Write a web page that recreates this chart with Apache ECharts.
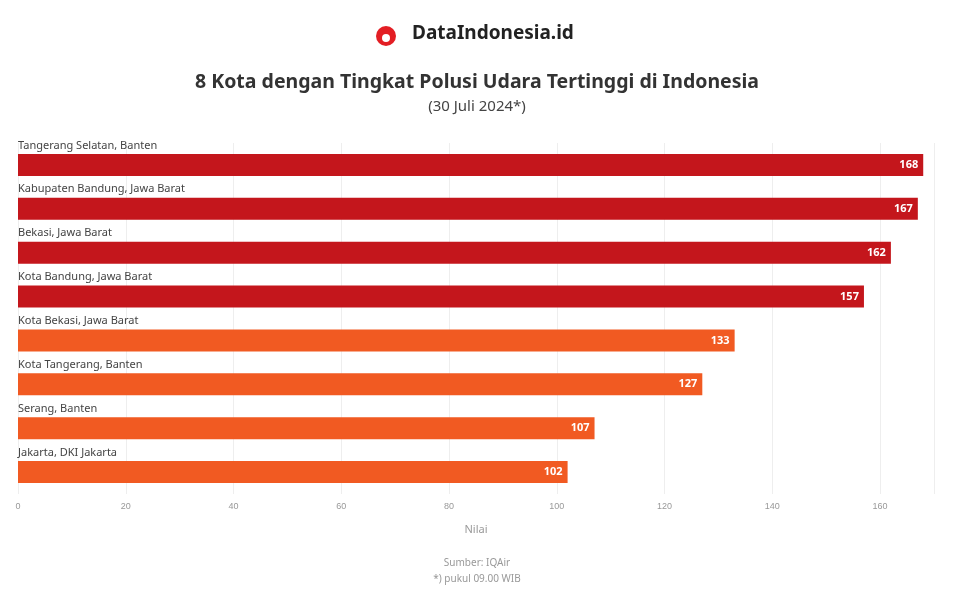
<!DOCTYPE html>
<html><head><meta charset="utf-8">
<script src="https://cdn.jsdelivr.net/npm/echarts@6/dist/echarts.min.js"></script>
<style>html,body{margin:0;background:#fff}#c{width:954px;height:596px}</style>
</head><body><div id="c"></div>
<script>
const cities = ['Tangerang Selatan, Banten','Kabupaten Bandung, Jawa Barat','Bekasi, Jawa Barat','Kota Bandung, Jawa Barat','Kota Bekasi, Jawa Barat','Kota Tangerang, Banten','Serang, Banten','Jakarta, DKI Jakarta'];
const values = [168, 167, 162, 157, 133, 127, 107, 102];
const barColors = ['#c4161c','#c4161c','#c4161c','#c4161c','#f15a22','#f15a22','#f15a22','#f15a22'];
const ticks = [0,20,40,60,80,100,120,140,160];
const chart = echarts.init(document.getElementById('c'));
chart.setOption({
  animation:false,
  title:[{text:'8 Kota dengan Tingkat Polusi Udara Tertinggi di Indonesia',left:'center',top:67,textStyle:{fontFamily:'Noto Sans',fontSize:19.5,fontWeight:'bold',color:'#333'}},
         {text:'(30 Juli 2024*)',left:'center',top:94,textStyle:{fontFamily:'Noto Sans',fontSize:15,fontWeight:'normal',color:'#444'}},
         {text:'Sumber: IQAir\n*) pukul 09.00 WIB',left:'center',top:550,textStyle:{fontFamily:'Noto Sans',fontSize:10,fontWeight:'normal',color:'#999',lineHeight:16,align:'center'}}],
  graphic:[
    {type:'circle',shape:{cx:386,cy:36,r:10},style:{fill:'#e31e24'}},
    {type:'circle',shape:{cx:386,cy:38,r:4},style:{fill:'#fff'}},
    {type:'text',x:412,y:24,style:{text:'DataIndonesia.id',font:'bold 19px Noto Sans',fill:'#222'}}
  ],
  grid:{left:18,right:20,top:143,bottom:102},
  xAxis:{type:'value',min:0,max:170,interval:20,name:'Nilai',nameLocation:'middle',nameGap:30,
    nameTextStyle:{color:'#999',fontSize:11,fontFamily:'Noto Sans'},
    axisLabel:{color:'#999',fontSize:9,showMaxLabel:false},
    splitLine:{lineStyle:{color:'#eee'}},axisLine:{show:false},axisTick:{show:false}},
  yAxis:{type:'category',data:cities,inverse:true,axisLabel:{show:false},axisLine:{show:false},axisTick:{show:false}},
  series:[{type:'bar',barWidth:22,
    data:values.map((v,i)=>({value:v,itemStyle:{color:barColors[i]}})),
    label:{show:true,position:'insideRight',color:'#fff',fontSize:11,fontWeight:'bold',fontFamily:'Noto Sans'}},
   {type:'bar',barWidth:22,barGap:'-100%',data:values,itemStyle:{color:'transparent'},
    label:{show:true,position:[0,-14],formatter:p=>cities[p.dataIndex],color:'#444',fontSize:11,fontFamily:'Noto Sans'}}]
});
</script></body></html>
